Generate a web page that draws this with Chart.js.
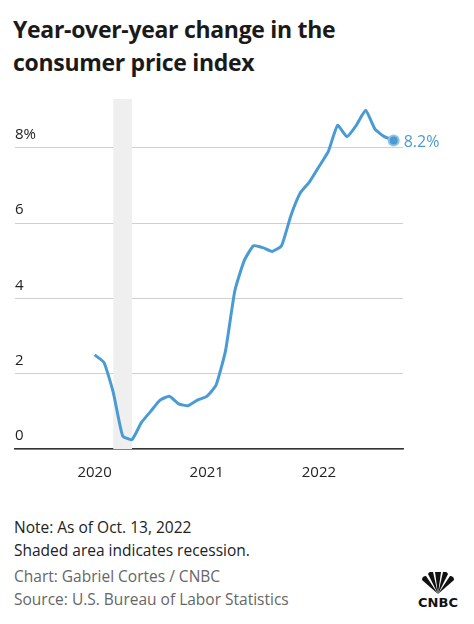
<!DOCTYPE html>
<html><head><meta charset="utf-8">
<script src="https://cdn.jsdelivr.net/npm/chart.js@4/dist/chart.umd.min.js"></script>
<style>
body{margin:0;width:474px;height:624px;background:#fff;font-family:"Open Sans",sans-serif;position:relative;overflow:hidden}
#title{position:absolute;left:13px;top:13px;font-size:23px;font-weight:bold;line-height:33px;color:#1a1a1a;letter-spacing:-0.3px}
#wrap{position:absolute;left:0;top:90px;width:474px;height:410px}
.foot{position:absolute;left:14px;font-size:15.5px}
#logo{position:absolute;right:16px;top:572px;font:bold 13px "DejaVu Sans",sans-serif;color:#111;text-align:center}
</style></head><body>
<div id="title">Year-over-year change in the<br>consumer price index</div>
<div id="wrap"><canvas id="c"></canvas></div>
<div class="foot" style="top:516px;color:#222">Note: As of Oct. 13, 2022</div>
<div class="foot" style="top:539px;color:#222">Shaded area indicates recession.</div>
<div class="foot" style="top:565px;color:#666">Chart: Gabriel Cortes / CNBC</div>
<div class="foot" style="top:588px;color:#666">Source: U.S. Bureau of Labor Statistics</div>
<div id="logo"><svg width="40" height="22" viewBox="0 0 40 22"><g fill="#111"><path d="M20 22 L4 8 A4 4 0 0 1 8 4 Z"/><path d="M20 22 L10 2 A4 4 0 0 1 15 0 Z"/><path d="M20 22 L17 0 A4 4 0 0 1 23 0 Z"/><path d="M20 22 L25 0 A4 4 0 0 1 30 2 Z"/><path d="M20 22 L32 4 A4 4 0 0 1 36 8 Z"/></g></svg><div style="margin-top:-2px">CNBC</div></div>
<script>
// monthly YoY CPI, Jan 2020 .. Sep 2022
const startYear = 2020;
const cpiValues = [2.5, 2.3, 1.5, 0.35, 0.25, 0.7, 1.0, 1.3, 1.4, 1.2, 1.15, 1.3,
  1.4, 1.7, 2.6, 4.2, 5.0, 5.4, 5.35, 5.25, 5.4, 6.2, 6.8, 7.1,
  7.5, 7.9, 8.6, 8.3, 8.6, 9.0, 8.5, 8.3, 8.2];
const yTicks = [0, 2, 4, 6, 8];
const xTicks = [2020, 2021, 2022];
const recession = [2020 + 2 / 12, 2020 + 4 / 12];
const lastLabel = "8.2%";

const pts = cpiValues.map((v, i) => ({ x: startYear + i / 12, y: v }));
const blue = "#4a9bd4";

const extras = {
  id: "extras",
  beforeDatasetsDraw(ch) {
    const { ctx, chartArea: a, scales: { x } } = ch;
    ctx.save();
    ctx.fillStyle = "#efefef";
    const x0 = x.getPixelForValue(recession[0]), x1 = x.getPixelForValue(recession[1]);
    ctx.fillRect(x0, a.top, x1 - x0, a.bottom - a.top);
    ctx.restore();
  },
  afterDatasetsDraw(ch) {
    const { ctx, scales: { x, y } } = ch;
    const p = pts[pts.length - 1];
    const px = x.getPixelForValue(p.x), py = y.getPixelForValue(p.y);
    ctx.save();
    ctx.beginPath();
    ctx.arc(px, py, 6, 0, Math.PI * 2);
    ctx.fillStyle = "#8fc1e6"; ctx.fill();
    ctx.beginPath();
    ctx.arc(px, py, 4, 0, Math.PI * 2);
    ctx.fillStyle = blue; ctx.fill();
    ctx.fillStyle = blue;
    ctx.font = "16px 'Open Sans'";
    ctx.textBaseline = "middle";
    ctx.fillText(lastLabel, px + 10, py + 2);
    ctx.restore();
  }
};

new Chart(document.getElementById("c"), {
  type: "line",
  data: { datasets: [{ data: pts, borderColor: blue, borderWidth: 3, pointRadius: 0, tension: 0.15 }] },
  options: {
    responsive: true, maintainAspectRatio: false, animation: false,
    layout: { padding: { left: 15, right: 71, top: 5 } },
    plugins: { legend: { display: false }, tooltip: { enabled: false } },
    scales: {
      x: {
        type: "linear", min: 2019.29, max: 2022.75,
        afterBuildTicks: s => { s.ticks = xTicks.map(v => ({ value: v })); },
        afterFit: s => { s.height = 51; },
        grid: { display: false, drawTicks: true, tickColor: "#333", tickLength: 6 },
        border: { color: "#333", width: 1.5 },
        ticks: { color: "#222", font: { size: 15, family: "Open Sans" }, padding: 9, callback: v => String(v) }
      },
      y: {
        min: 0, max: 9.3,
        afterBuildTicks: s => { s.ticks = yTicks.map(v => ({ value: v })); },
        afterFit: s => { s.width = 0; },
        border: { display: false },
        grid: { color: "#cfcfcf", drawTicks: false },
        ticks: {
          mirror: true, padding: 0, labelOffset: -13, color: "#222",
          font: { size: 15, family: "Open Sans" },
          callback: v => v === 8 ? "8%" : String(v)
        }
      }
    }
  },
  plugins: [extras]
});
</script>
</body></html>
